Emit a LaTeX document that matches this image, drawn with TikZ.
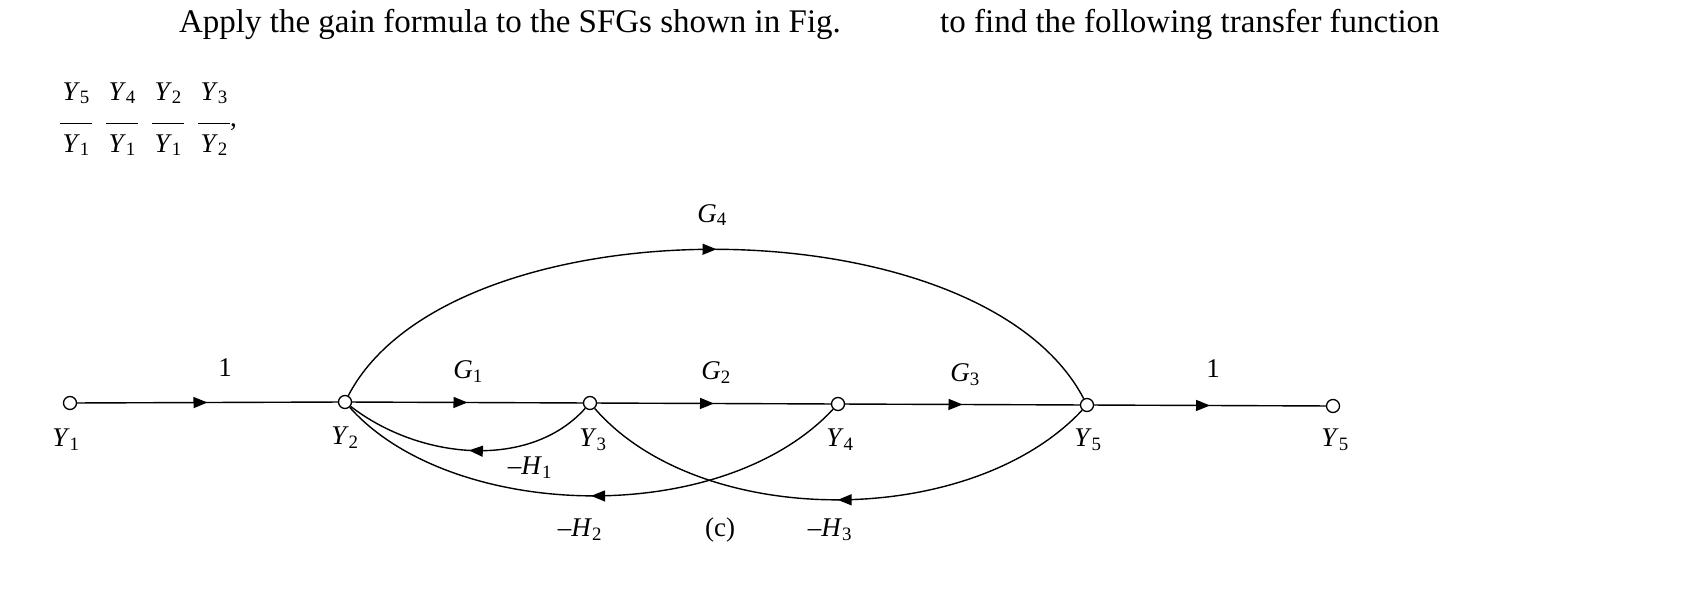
\documentclass[tikz,border=0pt]{standalone}
\usepackage{fontspec}
\setmainfont{Liberation Serif}
\usetikzlibrary{decorations.markings,arrows.meta}
\newcommand\vv[2]{\textit{#1}\textsubscript{#2}}
\newcommand\fr[2]{\begin{tabular}{@{}c@{}}\vv{Y}{#1}\\[-6pt]\rule{32pt}{1.4pt}\\[-2pt]\vv{Y}{#2}\end{tabular}}
\begin{document}
\begin{tikzpicture}[x=1pt,y=-1pt,
  nd/.style={circle,draw,line width=1.3pt,fill=white,inner sep=0pt,minimum size=13pt},
  br/.style={line width=1.4pt,postaction={decorate},decoration={markings,mark=at position 0.5 with {\arrow{Triangle[length=14pt,width=11pt]}}}},
  lb/.style={font=\fontsize{27}{30}\selectfont},
  hd/.style={font=\fontsize{33}{38}\selectfont,inner sep=0pt}]
\useasboundingbox (0,0) rectangle (1694,602);
\node[hd] (t1) at (510,24) {Apply the gain formula to the SFGs shown in Fig.};
\node[hd,anchor=west] (t2) at (940,24) {to find the following transfer function};
\node[anchor=west,font=\fontsize{27}{30}\selectfont,inner sep=0pt] (fr) at (60,120) {\fr{5}{1}\hspace{14pt}\fr{4}{1}\hspace{14pt}\fr{2}{1}\hspace{14pt}\fr{3}{2},};
\node[nd] (y1) at (70,403) {};
\node[nd] (y2) at (345,402) {};
\node[nd] (y3) at (590,403) {};
\node[nd] (y4) at (838,404) {};
\node[nd] (y5) at (1087,405) {};
\node[nd] (y6) at (1333,406) {};
\draw[br] (y1) -- (y2);
\draw[br] (y2) -- (y3);
\draw[br] (y3) -- (y4);
\draw[br] (y4) -- (y5);
\draw[br] (y5) -- (y6);
\draw[br] (y2) .. controls (450,200) and (980,200) .. (y5);
\draw[br] (y3) .. controls (530,470) and (420,460) .. (y2);
\draw[br] (y4) .. controls (720,530) and (450,520) .. (y2);
\draw[br] (y5) .. controls (970,530) and (700,530) .. (y3);
\node[lb] (l1) at (66,440) {\vv{Y}{1}};
\node[lb] (l2) at (345,438) {\vv{Y}{2}};
\node[lb] (l3) at (593,440) {\vv{Y}{3}};
\node[lb] (l4) at (840,440) {\vv{Y}{4}};
\node[lb] (l5) at (1088,440) {\vv{Y}{5}};
\node[lb] (l6) at (1335,440) {\vv{Y}{5}};
\node[lb] (a1) at (225,368) {1};
\node[lb] (g1) at (468,372) {\vv{G}{1}};
\node[lb] (g2) at (716,373) {\vv{G}{2}};
\node[lb] (g3) at (965,375) {\vv{G}{3}};
\node[lb] (a2) at (1213,369) {1};
\node[lb] (g4) at (712,215) {\vv{G}{4}};
\node[lb] (h1) at (530,468) {–\vv{H}{1}};
\node[lb] (h2) at (580,530) {–\vv{H}{2}};
\node[lb] (h3) at (830,530) {–\vv{H}{3}};
\node[lb] (c) at (720,530) {(c)};
\end{tikzpicture}
\end{document}
